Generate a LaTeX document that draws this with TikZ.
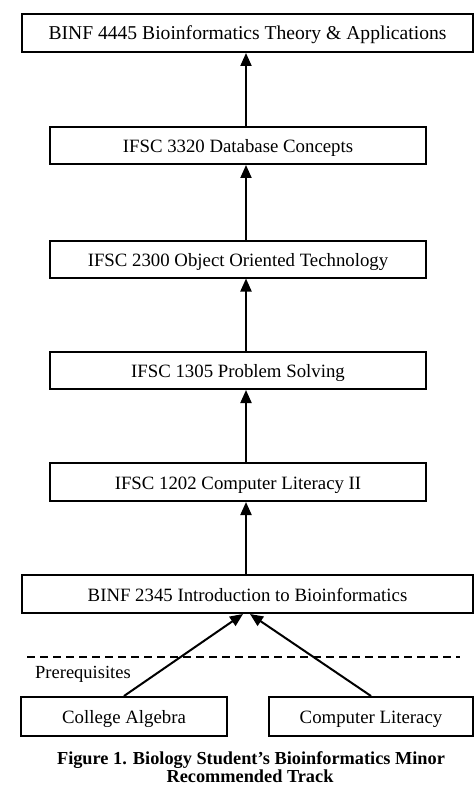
\documentclass[tikz,border=0pt]{standalone}
\usepackage{fontspec}
\setmainfont{Liberation Serif}
\usetikzlibrary{arrows.meta}
\begin{document}
\begin{tikzpicture}[x=1pt,y=-1pt,
  box/.style={draw,line width=2pt,inner sep=0pt,minimum height=38pt,
    text height=14pt,text depth=0pt,
    font=\fontsize{18.8}{22}\selectfont},
  arr/.style={line width=2pt,-{Triangle[width=11pt,length=13pt]}},
  dashline/.style={line width=1.6pt,dash pattern=on 8pt off 5pt},
  captext/.style={font=\bfseries\fontsize{18.3}{20}\selectfont,anchor=base,inner sep=0pt}]
\useasboundingbox (0,0) rectangle (474,786);
\node[box,minimum width=451pt,font=\fontsize{19.6}{22}\selectfont] (b1) at (247.5,33) {BINF 4445 Bioinformatics Theory \& Applications};
\node[box,minimum width=376pt,minimum height=37pt] (b2) at (238,145.5) {IFSC 3320 Database Concepts};
\node[box,minimum width=376pt,minimum height=37pt] (b3) at (238,259) {IFSC 2300 Object Oriented Technology};
\node[box,minimum width=376pt,minimum height=37pt] (b4) at (238,370.5) {IFSC 1305 Problem Solving};
\node[box,minimum width=376pt] (b5) at (238,482) {IFSC 1202 Computer Literacy II};
\node[box,minimum width=451pt] (b6) at (247.5,594) {BINF 2345 Introduction to Bioinformatics};
\node[box,minimum width=206pt,minimum height=39pt] (ca) at (124,716.5) {College Algebra};
\node[box,minimum width=204pt,minimum height=39pt] (cl) at (371,716.5) {Computer Literacy};
\coordinate (ax) at (246,0);
\draw[arr] (b2.north -| ax) -- (b1.south -| ax);
\draw[arr] (b3.north -| ax) -- (b2.south -| ax);
\draw[arr] (b4.north -| ax) -- (b3.south -| ax);
\draw[arr] (b5.north -| ax) -- (b4.south -| ax);
\draw[arr] (b6.north -| ax) -- (b5.south -| ax);
\coordinate (tl) at (243,0);
\coordinate (tr) at (250,0);
\draw[arr] (ca.north) -- (b6.south -| tl);
\draw[arr] (cl.north) -- (b6.south -| tr);
\coordinate (d1) at (27,657);
\coordinate (d2) at (460,657);
\draw[dashline] (d1) -- (d2);
\node[anchor=west,font=\fontsize{18.5}{22}\selectfont,inner sep=0pt] (pre) at (35,674) {Prerequisites};
\node[captext] (c1) at (251,764) {Figure 1. Biology Student’s Bioinformatics Minor};
\node[captext] (c2) at (250,782) {Recommended Track};
\end{tikzpicture}
\end{document}
